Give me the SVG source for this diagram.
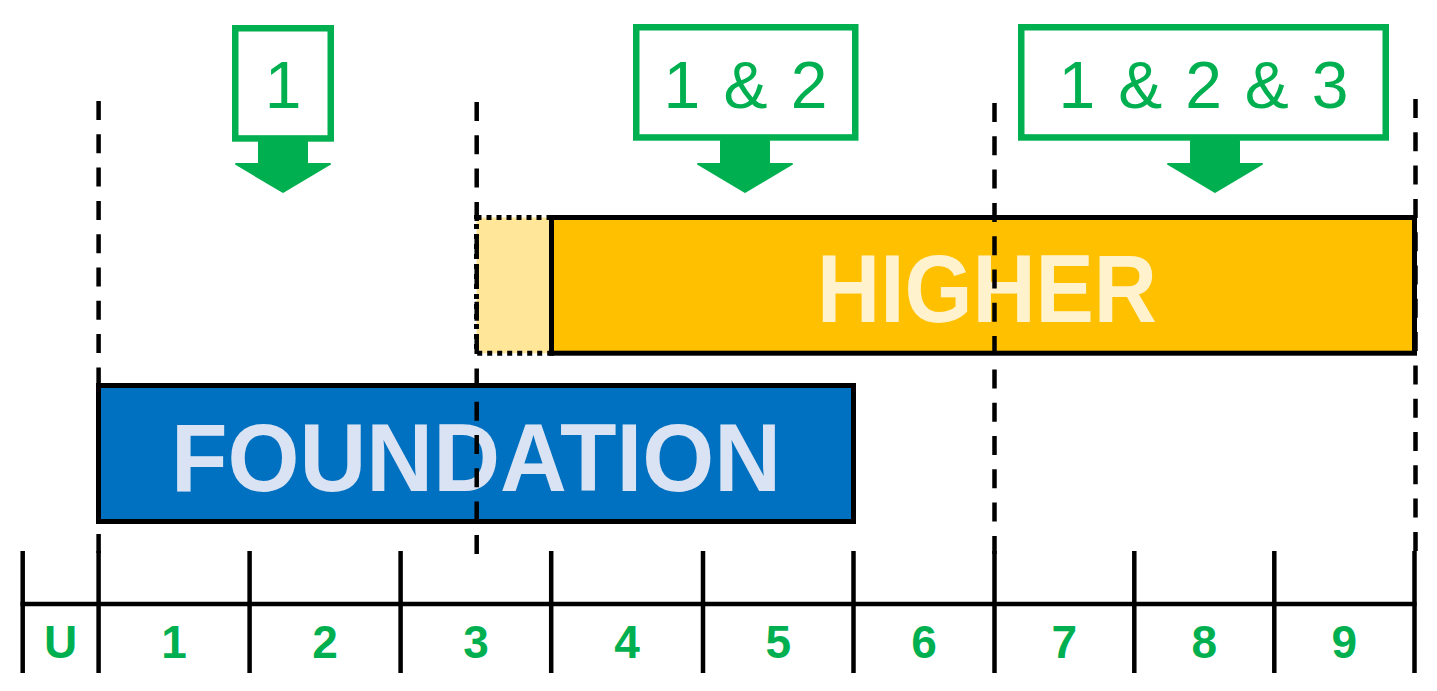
<svg xmlns="http://www.w3.org/2000/svg" width="1437" height="691" viewBox="0 0 1437 691">
<style>
  .label-box { fill: #FFFFFF; stroke: #00B050; stroke-width: 6.5; }
  .label-text { font-family: "Liberation Sans", Arial, sans-serif; font-size: 66px; fill: #00B050; text-anchor: middle; }
  .big-text { font-family: "Liberation Sans", Arial, sans-serif; font-weight: bold; font-size: 96px; text-anchor: middle; }
  .arrow { fill: #00B050; stroke: #00B050; stroke-width: 2; stroke-linejoin: round; }
  .guide { stroke: #000000; stroke-width: 4.5; stroke-dasharray: 19 14.3; fill: none; }
  .tick { stroke: #000000; stroke-width: 4.5; }
  .axis-text { font-family: "Liberation Sans", Arial, sans-serif; font-weight: bold; font-size: 46px; fill: #00B050; text-anchor: middle; }
</style>
<rect width="1437" height="691" fill="#FFFFFF"/>

<g id="higher-extension">
  <rect x="476.5" y="217.5" width="75" height="135.7" fill="#FFE699" stroke="#000000" stroke-width="5" stroke-dasharray="5 5"/>
</g>

<g id="higher">
  <rect x="551.5" y="217.5" width="863" height="135.7" fill="#FFC000" stroke="#000000" stroke-width="5"/>
  <text class="big-text" x="987" y="322" fill="#FFF2CC" textLength="340" lengthAdjust="spacingAndGlyphs">HIGHER</text>
</g>

<g id="foundation">
  <rect x="98.5" y="385.5" width="755" height="136" fill="#0070C0" stroke="#000000" stroke-width="5"/>
  <text class="big-text" x="476" y="490.5" fill="#DAE3F3" textLength="610" lengthAdjust="spacingAndGlyphs">FOUNDATION</text>
</g>

<g id="label-1">
  <rect class="label-box" x="235.25" y="28.25" width="95.5" height="110.2"/>
  <text class="label-text" x="283" y="108">1</text>
</g>

<g id="label-1-2">
  <rect class="label-box" x="636.25" y="27.25" width="219" height="110.2"/>
  <text class="label-text" x="745.5" y="108" textLength="164" lengthAdjust="spacing">1 &amp; 2</text>
</g>

<g id="label-1-2-3">
  <rect class="label-box" x="1021.25" y="27.25" width="364.5" height="110.2"/>
  <text class="label-text" x="1203.5" y="108" textLength="290" lengthAdjust="spacing">1 &amp; 2 &amp; 3</text>
</g>

<g id="connectors">
  <path class="arrow" d="M259,141 H307 V164 H330 L283,192 L236,164 H259 Z"/>
  <path class="arrow" d="M721,141 H769 V164 H792 L745,192 L698,164 H721 Z"/>
  <path class="arrow" d="M1191,141 H1239 V164 H1262 L1215,192 L1168,164 H1191 Z"/>
</g>

<g id="guides">
  <line class="guide" x1="98.6" y1="101" x2="98.6" y2="554"/>
  <line class="guide" x1="476.7" y1="102" x2="476.7" y2="554"/>
  <line class="guide" x1="994.5" y1="103" x2="994.5" y2="554"/>
  <line class="guide" x1="1415.5" y1="99" x2="1415.5" y2="554"/>
</g>

<g id="axis">
  <line x1="20.5" y1="604" x2="1416.5" y2="604" stroke="#000000" stroke-width="4.3"/>
  <line class="tick" x1="22.7" y1="551" x2="22.7" y2="673"/>
  <line class="tick" x1="98.6" y1="551" x2="98.6" y2="673"/>
  <line class="tick" x1="249.6" y1="551" x2="249.6" y2="673"/>
  <line class="tick" x1="400.6" y1="551" x2="400.6" y2="673"/>
  <line class="tick" x1="551.2" y1="551" x2="551.2" y2="673"/>
  <line class="tick" x1="703" y1="551" x2="703" y2="673"/>
  <line class="tick" x1="853.5" y1="551" x2="853.5" y2="673"/>
  <line class="tick" x1="994.5" y1="551" x2="994.5" y2="673"/>
  <line class="tick" x1="1134.3" y1="551" x2="1134.3" y2="673"/>
  <line class="tick" x1="1274.3" y1="551" x2="1274.3" y2="673"/>
  <line class="tick" x1="1414.5" y1="551" x2="1414.5" y2="673"/>
  <text class="axis-text" x="60.6" y="658">U</text>
  <text class="axis-text" x="174.1" y="658">1</text>
  <text class="axis-text" x="325.1" y="658">2</text>
  <text class="axis-text" x="476" y="658">3</text>
  <text class="axis-text" x="627" y="658">4</text>
  <text class="axis-text" x="778.2" y="658">5</text>
  <text class="axis-text" x="924" y="658">6</text>
  <text class="axis-text" x="1064.4" y="658">7</text>
  <text class="axis-text" x="1204.3" y="658">8</text>
  <text class="axis-text" x="1344.4" y="658">9</text>
</g>
</svg>
